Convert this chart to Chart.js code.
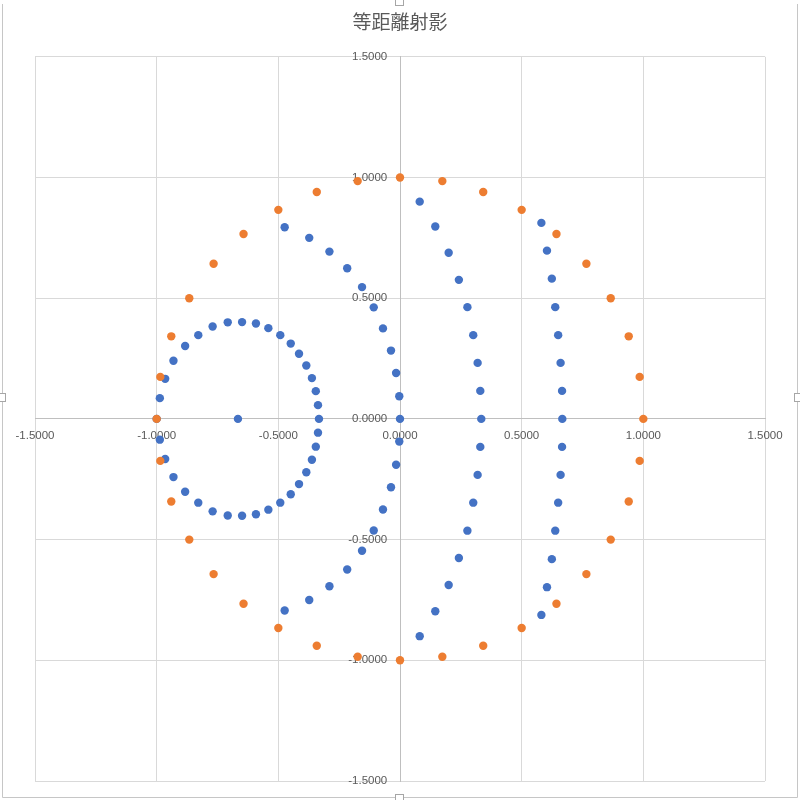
<!DOCTYPE html>
<html>
<head>
<meta charset="utf-8">
<script src="https://cdn.jsdelivr.net/npm/chart.js@4/dist/chart.umd.min.js"></script>
<style>
  html, body { margin: 0; padding: 0; background: #fff; }
  #wrap { width: 800px; height: 800px; }
</style>
</head>
<body>
<div id="wrap"><canvas id="chart" width="800" height="800"></canvas></div>
<script>
// orange: outer circle, every 10 degrees
const circleX = [1.000, 0.985, 0.940, 0.866, 0.766, 0.643, 0.500, 0.342, 0.174, 0.000,
  -0.174, -0.342, -0.500, -0.643, -0.766, -0.866, -0.940, -0.985, -1.000,
  -0.985, -0.940, -0.866, -0.766, -0.643, -0.500, -0.342, -0.174, 0.000,
  0.174, 0.342, 0.500, 0.643, 0.766, 0.866, 0.940, 0.985];
const circleY = [0.000, 0.174, 0.342, 0.500, 0.643, 0.766, 0.866, 0.940, 0.985, 1.000,
  0.985, 0.940, 0.866, 0.766, 0.643, 0.500, 0.342, 0.174, 0.000,
  -0.174, -0.342, -0.500, -0.643, -0.766, -0.866, -0.940, -0.985, -1.000,
  -0.985, -0.940, -0.866, -0.766, -0.643, -0.500, -0.342, -0.174];

// blue: left loop
const loopX = [-1.000, -0.987, -0.965, -0.931, -0.883, -0.829, -0.770, -0.708, -0.649, -0.592,
  -0.541, -0.492, -0.449, -0.415, -0.385, -0.362, -0.346, -0.337, -0.333,
  -0.337, -0.346, -0.362, -0.385, -0.415, -0.449, -0.492, -0.541, -0.592,
  -0.649, -0.708, -0.770, -0.829, -0.883, -0.931, -0.965, -0.987];
const loopY = [0.000, 0.086, 0.166, 0.241, 0.302, 0.347, 0.383, 0.400, 0.401, 0.395,
  0.376, 0.347, 0.312, 0.270, 0.221, 0.169, 0.115, 0.057, 0.000,
  -0.057, -0.115, -0.169, -0.221, -0.270, -0.312, -0.347, -0.376, -0.395,
  -0.401, -0.400, -0.383, -0.347, -0.302, -0.241, -0.166, -0.086];

// blue: single point in the middle of the loop
const loopCenterX = [-0.666];
const loopCenterY = [0.000];

// blue: curve through the origin
const bendX = [-0.474, -0.373, -0.290, -0.217, -0.156, -0.108, -0.070, -0.037, -0.016, -0.003, 0.000,
  -0.003, -0.016, -0.037, -0.070, -0.108, -0.156, -0.217, -0.290, -0.373, -0.474];
const bendY = [0.794, 0.750, 0.693, 0.624, 0.546, 0.462, 0.375, 0.283, 0.190, 0.094, 0.000,
  -0.094, -0.190, -0.283, -0.375, -0.462, -0.546, -0.624, -0.693, -0.750, -0.794];

// blue: inner right arc
const innerX = [0.081, 0.145, 0.200, 0.242, 0.277, 0.301, 0.319, 0.330, 0.334,
  0.330, 0.319, 0.301, 0.277, 0.242, 0.200, 0.145, 0.081];
const innerY = [0.900, 0.797, 0.688, 0.576, 0.463, 0.347, 0.232, 0.116, 0.000,
  -0.116, -0.232, -0.347, -0.463, -0.576, -0.688, -0.797, -0.900];

// blue: outer right arc
const outerX = [0.581, 0.604, 0.624, 0.638, 0.650, 0.660, 0.666, 0.667,
  0.666, 0.660, 0.650, 0.638, 0.624, 0.604, 0.581];
const outerY = [0.812, 0.697, 0.581, 0.463, 0.347, 0.232, 0.116, 0.000,
  -0.116, -0.232, -0.347, -0.463, -0.581, -0.697, -0.812];

const axisMin = -1.5;
const axisMax = 1.5;
const axisStep = 0.5;

function toPoints(xs, ys) {
  return xs.map((x, i) => ({ x: x, y: ys[i] }));
}

const bluePoints = [].concat(
  toPoints(loopX, loopY),
  toPoints(loopCenterX, loopCenterY),
  toPoints(bendX, bendY),
  toPoints(innerX, innerY),
  toPoints(outerX, outerY)
);
const orangePoints = toPoints(circleX, circleY);

const tickFont = { family: "'Liberation Sans', Arial, sans-serif", size: 11.5 };
const tickColor = "#595959";
const gridColor = (ctx) => (ctx.tick && ctx.tick.value === 0 ? "#bfbfbf" : "#d9d9d9");

// frame and handles around the chart, like the selected chart in the picture
const frame = {
  id: "frame",
  afterDraw(chart) {
    const c = chart.ctx;
    c.save();
    c.strokeStyle = "#c6c6c6";
    c.lineWidth = 1;
    c.beginPath();
    c.moveTo(2.5, 4);
    c.lineTo(2.5, 797.5);
    c.lineTo(797.5, 797.5);
    c.lineTo(797.5, 4);
    c.stroke();
    const handles = [[-3, 393], [794, 393], [395, 794], [395, -3]];
    handles.forEach(([hx, hy]) => {
      c.fillStyle = "#fff";
      c.fillRect(hx + 0.5, hy + 0.5, 8, 8);
      c.strokeStyle = "#a6a6a6";
      c.strokeRect(hx + 0.5, hy + 0.5, 8, 8);
    });
    c.restore();
  },
};

new Chart(document.getElementById("chart"), {
  type: "scatter",
  data: {
    datasets: [
      {
        label: "系列1",
        data: bluePoints,
        backgroundColor: "#4472c4",
        borderColor: "#4472c4",
        pointRadius: 4.2,
        pointBorderWidth: 0,
        order: 1,
      },
      {
        label: "系列2",
        data: orangePoints,
        backgroundColor: "#ed7d31",
        borderColor: "#ed7d31",
        pointRadius: 4.2,
        pointBorderWidth: 0,
        order: 0,
      },
    ],
  },
  options: {
    responsive: false,
    animation: false,
    devicePixelRatio: 1,
    layout: { padding: { left: 35, right: 35, top: 0, bottom: 19 } },
    plugins: {
      legend: { display: false },
      tooltip: { enabled: false },
      title: {
        display: true,
        text: "等距離射影",
        color: "#595959",
        font: { family: "'Noto Sans CJK JP', sans-serif", size: 19, weight: "normal" },
        padding: { top: 10, bottom: 24 },
      },
    },
    scales: {
      x: {
        type: "linear",
        position: { y: 0 },
        min: axisMin,
        max: axisMax,
        ticks: {
          stepSize: axisStep,
          color: tickColor,
          font: tickFont,
          padding: 10,
          maxRotation: 0,
          autoSkip: false,
          callback: (v) => v.toFixed(4),
        },
        grid: { color: gridColor, drawTicks: false },
        border: { color: "#bfbfbf" },
      },
      y: {
        type: "linear",
        position: { x: 0 },
        min: axisMin,
        max: axisMax,
        ticks: {
          stepSize: axisStep,
          color: tickColor,
          font: tickFont,
          autoSkip: false,
          // labels sit right on the axis when it is placed at x = 0,
          // trailing spaces push them left of the line
          callback: (v) => v.toFixed(4) + "    ",
        },
        grid: { color: gridColor, drawTicks: false },
        border: { color: "#bfbfbf" },
      },
    },
  },
  plugins: [frame],
});
</script>
</body>
</html>
